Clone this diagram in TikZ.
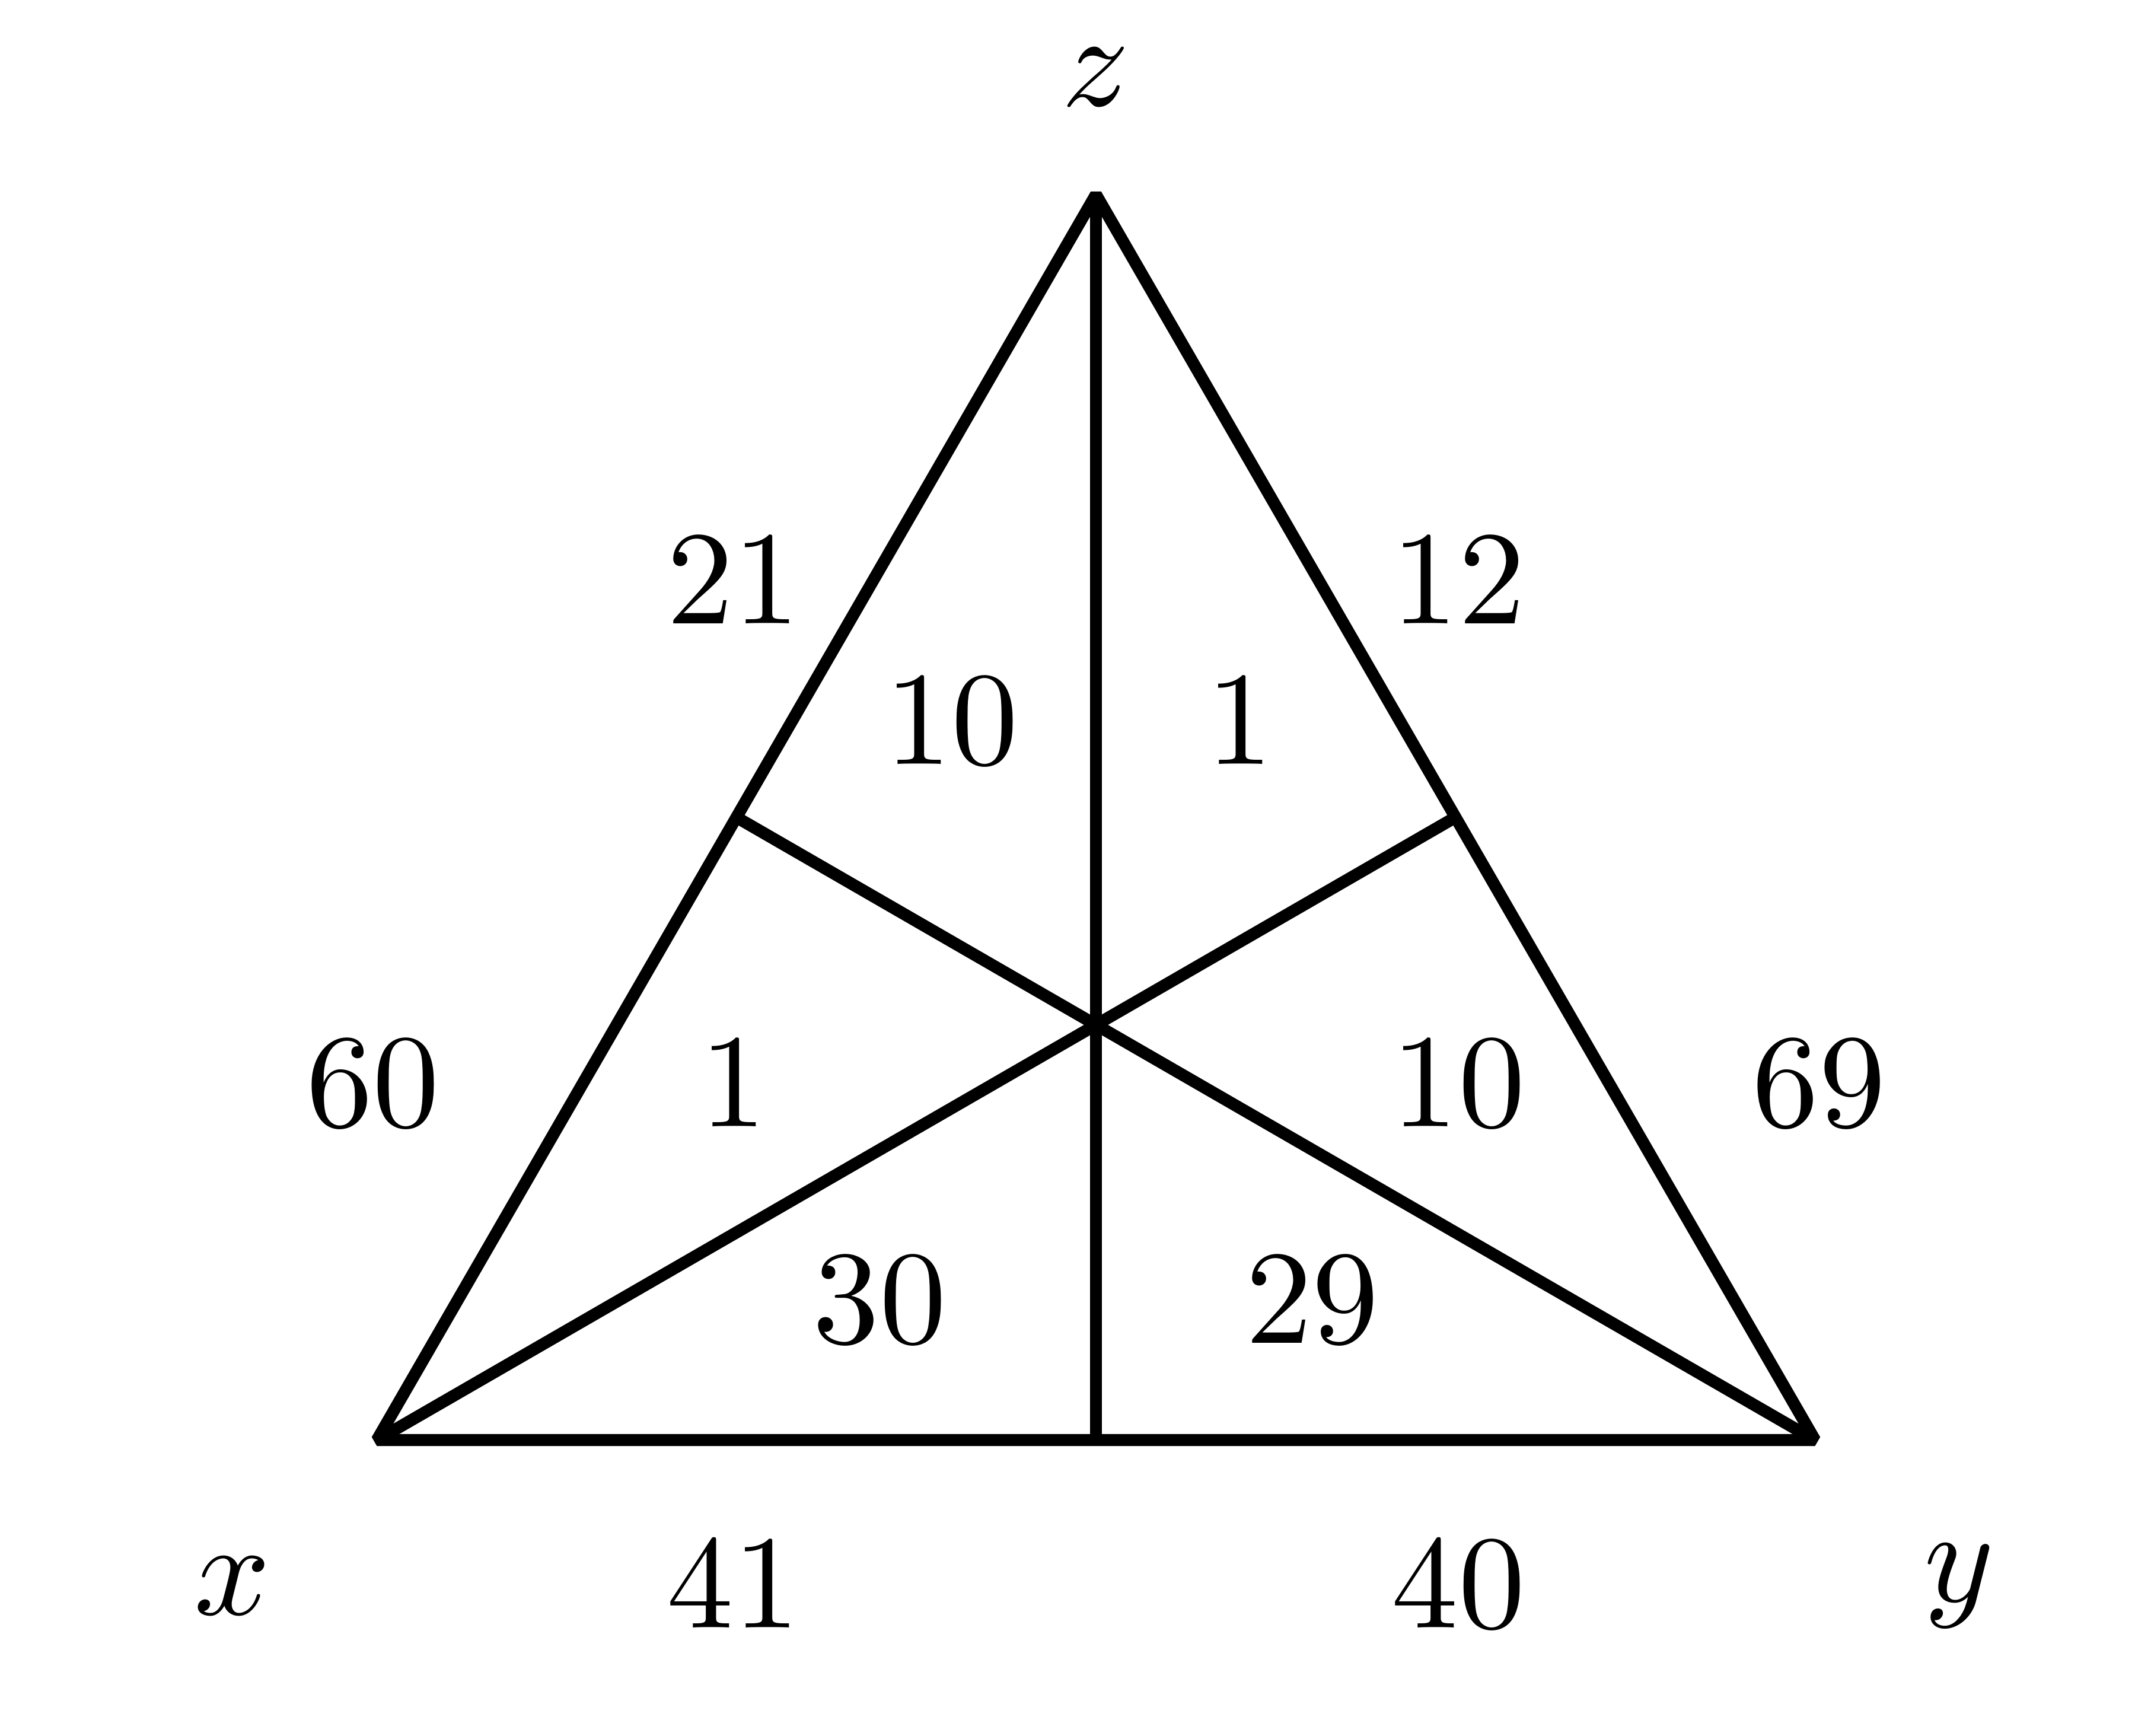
\documentclass[tikz,border=0pt]{standalone}
\usetikzlibrary{calc}
\begin{document}
\begin{tikzpicture}[
  edge/.style={line width=0.9pt, line join=bevel},
  lab/.style={inner sep=0pt, anchor=center}
]
\useasboundingbox (-2.8875,-1.8734) rectangle (2.7375,2.7);
% vertices
\coordinate (Z) at (0,2.1875);
\coordinate (X) at (-1.8944,-1.09375);
\coordinate (Y) at (1.8944,-1.09375);
\coordinate (C) at (0,0);
\coordinate (MXY) at ($(X)!0.5!(Y)$);
\coordinate (MXZ) at ($(X)!0.5!(Z)$);
\coordinate (MYZ) at ($(Y)!0.5!(Z)$);
% triangle and medians
\draw[edge] (X) -- (Y) -- (Z) -- cycle;
\draw[edge] (Z) -- (MXY);
\draw[edge] (X) -- (MYZ);
\draw[edge] (Y) -- (MXZ);
% vertex labels
\node[lab] (lz) at (0,2.497) {$z$};
\node[lab] (lx) at (-2.275,-1.478) {$x$};
\node[lab] (ly) at (2.275,-1.478) {$y$};
% outer labels
\node[lab] (n21) at (-0.955,1.17) {$21$};
\node[lab] (n12) at (0.955,1.17) {$12$};
\node[lab] (n60) at (-1.905,-0.155) {$60$};
\node[lab] (n69) at (1.905,-0.155) {$69$};
\node[lab] (n41) at (-0.955,-1.475) {$41$};
\node[lab] (n40) at (0.955,-1.475) {$40$};
% inner labels
\node[lab] (i10a) at (-0.38,0.80) {$10$};
\node[lab] (i1a) at (0.38,0.80) {$1$};
\node[lab] (i1b) at (-0.955,-0.155) {$1$};
\node[lab] (i10b) at (0.955,-0.155) {$10$};
\node[lab] (i30) at (-0.57,-0.725) {$30$};
\node[lab] (i29) at (0.57,-0.725) {$29$};
\end{tikzpicture}
\end{document}
